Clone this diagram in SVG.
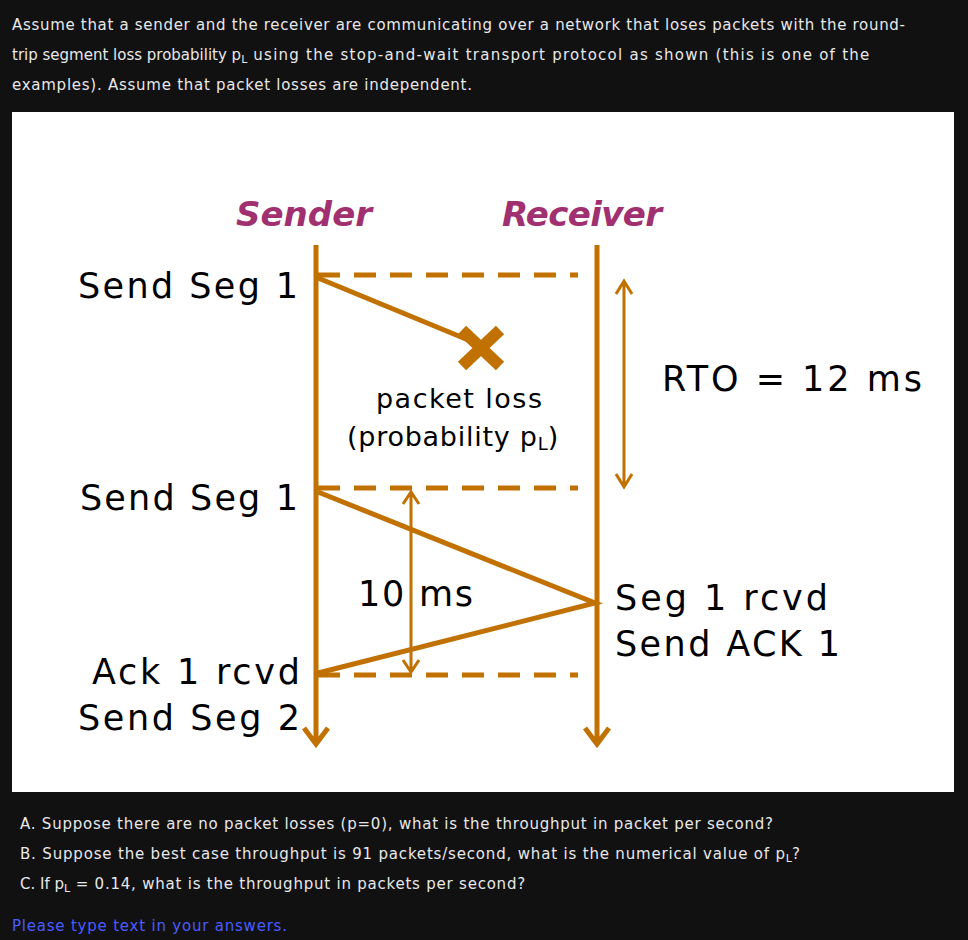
<svg xmlns="http://www.w3.org/2000/svg" width="968" height="940" viewBox="0 0 968 940">
<defs>
<style>
.t{font-family:"DejaVu Sans","Open Sans",sans-serif;fill:#e8e8e8;font-size:15px}
.d{font-family:"DejaVu Sans","Open Sans",sans-serif;fill:#000;font-size:35px}
.s{stroke:#c07100;stroke-width:5;fill:none}
.dash{stroke:#c07100;stroke-width:5;stroke-dasharray:22,14;fill:none}
.ar{stroke:#c07100;stroke-width:3;fill:none}
</style>
</defs>
<rect width="968" height="940" fill="#111"/>
<text class="t" x="12" y="30" textLength="893">Assume that a sender and the receiver are communicating over a network that loses packets with the round-</text>
<text class="t" x="12" y="60">trip segment loss probability p<tspan font-size="11" dy="3">L</tspan><tspan dy="-3" textLength="622"> using the stop-and-wait transport protocol as shown (this is one of the</tspan></text>
<text class="t" x="12" y="90" textLength="460">examples). Assume that packet losses are independent.</text>
<rect x="12" y="112" width="942" height="680" fill="#fff"/>
<g id="labels">
<text x="236" y="226" textLength="136" font-family="DejaVu Sans,sans-serif" font-size="34" font-style="italic" font-weight="bold" fill="#a0306f">Sender</text>
<text x="502" y="226" textLength="160" font-family="DejaVu Sans,sans-serif" font-size="34" font-style="italic" font-weight="bold" fill="#a0306f">Receiver</text>
<text class="d" x="78" y="298" textLength="220">Send Seg 1</text>
<text class="d" x="80" y="510" textLength="218">Send Seg 1</text>
<text class="d" x="92" y="684" textLength="208">Ack 1 rcvd</text>
<text class="d" x="78" y="730" textLength="222">Send Seg 2</text>
<text class="d" x="662" y="391" textLength="260">RTO = 12 ms</text>
<text class="d" x="615" y="610" textLength="213">Seg 1 rcvd</text>
<text class="d" x="615" y="656" textLength="225">Send ACK 1</text>
<text class="d" x="358" y="606" textLength="115">10 ms</text>
<text x="376" y="408" textLength="166" font-family="DejaVu Sans,sans-serif" font-size="27">packet loss</text>
<text x="347" y="446" font-family="DejaVu Sans,sans-serif" font-size="27"><tspan textLength="190">(probability p</tspan><tspan font-size="18" dy="4">L</tspan><tspan dy="-4">)</tspan></text>
</g>
<g id="connectors">
<path class="s" d="M316 245V742M304 728L316 744L328 728"/>
<path class="s" d="M597 245V742M585 728L597 744L609 728"/>
<path class="dash" d="M318 275H578M318 488H578M318 675H578"/>
<path class="s" d="M318 278L478 344"/>
<path d="M462 330L500 366M500 330L462 366" stroke="#c07100" stroke-width="12"/>
<path class="s" d="M318 492L595 603L318 673"/>
<path class="ar" d="M411 492V672M403 504L411 492L419 504M403 660L411 672L419 660"/>
<path class="ar" d="M624 281V487M616 294L624 281L632 294M616 474L624 487L632 474"/>
</g>
<g font-family="DejaVu Sans,sans-serif" font-size="15" fill="#e8e8e8">
<text x="20" y="829" textLength="753">A. Suppose there are no packet losses (p=0), what is the throughput in packet per second?</text>
<text x="20" y="859"><tspan textLength="765">B. Suppose the best case throughput is 91 packets/second, what is the numerical value of p</tspan><tspan font-size="11" dy="3">L</tspan><tspan dy="-3">?</tspan></text>
<text x="20" y="889">C. If p<tspan font-size="11" dy="3">L</tspan><tspan dy="-3" textLength="455"> = 0.14, what is the throughput in packets per second?</tspan></text>
<text x="12" y="931" fill="#4a5cff" textLength="275">Please type text in your answers.</text>
</g>
</svg>
